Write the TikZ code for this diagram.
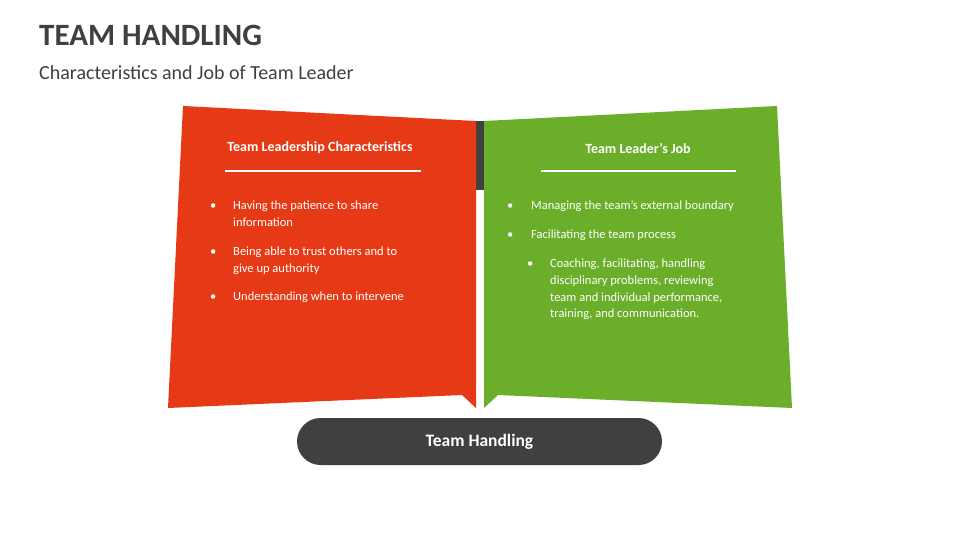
\documentclass[tikz,border=0pt]{standalone}
\usepackage{fontspec}
\setmainfont{Carlito}
\definecolor{redc}{HTML}{E63A17}
\definecolor{greenc}{HTML}{6AAE2A}
\definecolor{darkc}{HTML}{404040}
\begin{document}
\begin{tikzpicture}[x=1pt,y=-1pt,
  body/.style={anchor=base west,text=white,font=\fontsize{12.5}{15}\selectfont,inner sep=0},
  bul/.style={anchor=base west,text=white,font=\fontsize{12.5}{15}\selectfont,inner sep=0},
  head/.style={text=white,font=\bfseries\fontsize{14}{16}\selectfont,inner sep=0}]
\useasboundingbox (0,0) rectangle (960,540);
\fill[white] (0,0) rectangle (960,540);
\node[anchor=base west,inner sep=0,text=darkc,font=\bfseries\fontsize{31}{34}\selectfont] (title) at (39,46) {TEAM HANDLING};
\node[anchor=base west,inner sep=0,text=darkc,font=\fontsize{20}{24}\selectfont] (sub) at (39,80) {Characteristics and Job of Team Leader};
\fill[darkc] (476,121) rectangle (484,190);
\fill[redc] (183,106) -- (476,121) -- (476,408) -- (462,395) -- (168,408) -- cycle;
\fill[greenc] (484,121) -- (777,106) -- (792,408) -- (498,395) -- (484,408) -- cycle;
\node[head] (h1) at (320,148) {Team Leadership Characteristics};
\node[head] (h2) at (638,148) {Team Leader’s Job};
\draw[white,line width=2.2] (225,171) -- (421,171);
\draw[white,line width=2.2] (541,171) -- (736,171);
\foreach \y in {209,255,300} \node[bul] at (210,\y) {•};
\node[body] (a1) at (233,209) {Having the patience to share};
\node[body] (a1b) at (233,226) {information};
\node[body] (a2) at (233,255) {Being able to trust others and to};
\node[body] (a2b) at (233,272) {give up authority};
\node[body] (a3) at (233,300) {Understanding when to intervene};
\foreach \y in {209,238} \node[bul] at (507,\y) {•};
\node[bul] at (527,267) {•};
\node[body] (b1) at (531,209) {Managing the team’s external boundary};
\node[body] (b2) at (531,238) {Facilitating the team process};
\node[body] (c1) at (550,267) {Coaching, facilitating, handling};
\node[body] (c2) at (550,284) {disciplinary problems, reviewing};
\node[body] (c3) at (550,301) {team and individual performance,};
\node[body] (c4) at (550,317) {training, and communication.};
\fill[darkc,rounded corners=23.5] (297,418) rectangle (662,465);
\node[text=white,font=\bfseries\fontsize{17.5}{20}\selectfont,inner sep=0] (th) at (479.5,441.5) {Team Handling};
\end{tikzpicture}
\end{document}
